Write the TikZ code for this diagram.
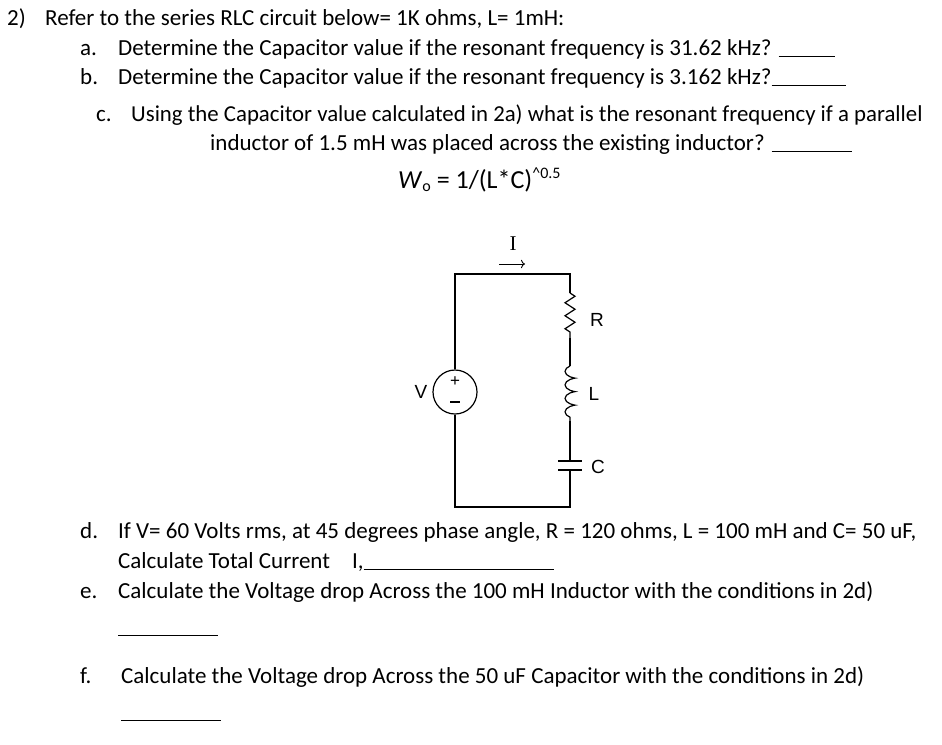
\documentclass[tikz,border=0pt]{standalone}
\usepackage{fontspec}
\setmainfont{Carlito}
\setsansfont{Liberation Sans}
\newfontfamily\serifI{Liberation Serif}
\usetikzlibrary{decorations.pathmorphing,arrows.meta}
\begin{document}
\begin{tikzpicture}[x=1pt,y=-1pt,
  txt/.style={anchor=base west,inner sep=0pt,font=\fontsize{23}{26}\selectfont},
  lab/.style={inner sep=0pt,font=\sffamily\fontsize{19}{22}\selectfont},
  wire/.style={line width=1.2pt}]
\useasboundingbox (0,0) rectangle (942,744);
\newcommand{\blank}[1]{\rule[-2pt]{#1}{0.8pt}}
\newcommand{\lbl}[2]{\makebox[#1][l]{#2}}
\node[txt] (t1) at (7,25) {\lbl{38pt}{2)}Refer to the series RLC circuit below= 1K ohms, L= 1mH:};
\node[txt] (ta) at (80,55) {\lbl{38pt}{a.}Determine the Capacitor value if the resonant frequency is 31.62 kHz? \blank{56pt}};
\node[txt] (tb) at (80,84) {\lbl{38pt}{b.}Determine the Capacitor value if the resonant frequency is 3.162 kHz?\blank{74pt}};
\node[txt] (tc) at (96,121) {\lbl{35pt}{c.}\fontsize{22.8}{26}\selectfont Using the Capacitor value calculated in 2a) what is the resonant frequency if a parallel};
\node[txt] (tc2) at (210,150) {inductor of 1.5 mH was placed across the existing inductor? \blank{80pt}};
\node[txt] (fm) at (398,188) {\fontsize{26}{28}\selectfont\textit{W}\raisebox{-3pt}{\fontsize{16}{16}\selectfont o} = 1/(L*C)\raisebox{10pt}{\fontsize{16}{16}\selectfont \^{}0.5}};
\node[txt] (td) at (80,538) {\lbl{38pt}{d.}If V= 60 Volts rms, at 45 degrees phase angle, R = 120 ohms, L = 100 mH and C= 50 uF,};
\node[txt] (td2) at (118,568) {Calculate Total Current\hspace{22pt}I,\blank{190pt}};
\node[txt] (te) at (80,598) {\lbl{38pt}{e.}Calculate the Voltage drop Across the 100 mH Inductor with the conditions in 2d)};
\node[txt] (te2) at (118,634) {\blank{100pt}};
\node[txt] (tf) at (80,683) {\lbl{41pt}{f.}Calculate the Voltage drop Across the 50 uF Capacitor with the conditions in 2d)};
\node[txt] (tf2) at (121,719) {\blank{100pt}};
% circuit
\coordinate (tl) at (455,274);
\coordinate (tr) at (570,274);
\coordinate (bl) at (455,507);
\coordinate (br) at (570,507);
\node[circle,draw,line width=1.2pt,minimum size=44pt,inner sep=0pt] (src) at (455,392) {};
\node[inner sep=0pt,font=\sffamily\fontsize{17}{17}\selectfont] (pl) at (455,382) {+};
\draw[line width=1.1pt] (450,402) -- (460,402);
\coordinate (r1) at (570,293); \coordinate (r2) at (570,338);
\coordinate (l1) at (570,366); \coordinate (l2) at (570,421);
\coordinate (c1) at (570,461); \coordinate (c2) at (570,470);
\draw[wire] (src.north) -- (tl) -- (tr) -- (r1);
\draw[wire,decorate,decoration={zigzag,segment length=13pt,amplitude=5pt}] (r1) -- (r2);
\draw[wire] (r2) -- (l1);
\draw[wire,decorate,decoration={coil,aspect=0.4,segment length=13.5pt,amplitude=5pt,mirror}] (l1) -- (l2);
\draw[wire] (l2) -- (c1);
\draw[wire] (558,461) -- (582,461);
\draw[wire] (558,470) -- (582,470);
\draw[wire] (c2) -- (br) -- (bl) -- (src.south);
\node[lab] (R) at (597,320) {R};
\node[lab] (L) at (594,394) {L};
\node[lab] (C) at (598,467) {C};
\node[lab] (V) at (421,392) {V};
\node[inner sep=0pt,font=\serifI\fontsize{21}{21}\selectfont] (I) at (513,244) {I};
\coordinate (a1) at (499,264); \coordinate (a2) at (525,264);
\draw[line width=0.9pt,-{To[length=4pt]}] (a1) -- (a2);
\end{tikzpicture}
\end{document}
